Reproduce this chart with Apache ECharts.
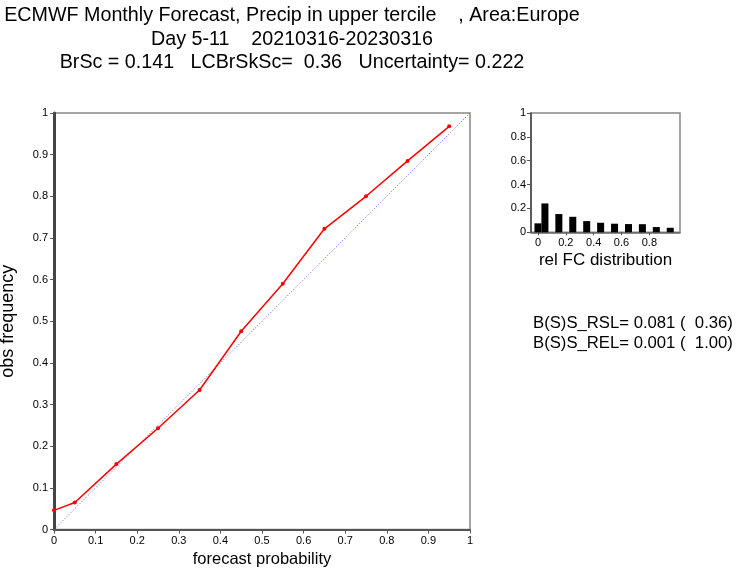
<!DOCTYPE html>
<html>
<head>
<meta charset="utf-8">
<script src="https://cdn.jsdelivr.net/npm/echarts@6/dist/echarts.min.js"></script>
<style>
  html, body { margin: 0; padding: 0; background: #fff; }
  #chart { width: 738px; height: 571px; }
</style>
</head>
<body>
<div id="chart"></div>
<script>
// reliability diagram values
const fcProb = [0, 0.05, 0.15, 0.25, 0.35, 0.45, 0.55, 0.65, 0.75, 0.85, 0.95];
const obsFreq = [0.046, 0.065, 0.157, 0.243, 0.335, 0.476, 0.590, 0.722, 0.800, 0.885, 0.968];
// relative forecast distribution (inset)
const relDist = [0.075, 0.242, 0.153, 0.130, 0.094, 0.080, 0.072, 0.069, 0.068, 0.044, 0.038];
const diagonal = [[0, 0], [1, 1]];
const insetTicks = [0, 0.2, 0.4, 0.6, 0.8];

const titleLines = [
  'ECMWF Monthly Forecast, Precip in upper tercile    , Area:Europe',
  'Day 5-11    20210316-20230316',
  'BrSc = 0.141   LCBrSkSc=  0.36   Uncertainty= 0.222'
];
const scoreLines = ['B(S)S_RSL= 0.081 (  0.36)', 'B(S)S_REL= 0.001 (  1.00)'];

const FONT = 'Liberation Sans, Arial, sans-serif';
const fmt = v => String(+v.toFixed(2));

const chart = echarts.init(document.getElementById('chart'));

const option = {
  animation: false,
  backgroundColor: '#fff',
  textStyle: { fontFamily: FONT },
  title: titleLines.map((t, i) => ({
    text: t,
    left: 287,
    top: 1 + i * 23.5,
    textAlign: 'center',
    textStyle: { fontFamily: FONT, fontSize: 19.7, fontWeight: 'normal', color: '#000' }
  })),
  graphic: scoreLines.map((t, i) => ({
    type: 'text',
    left: 533,
    top: 315 + i * 20,
    style: { text: t, font: '16.7px ' + FONT, fill: '#000' }
  })),
  grid: [
    { left: 54, right: 268, top: 113, bottom: 41.5, outerBoundsMode: 'none',
      show: true, borderColor: '#888', borderWidth: 1.5 },
    { left: 531, right: 58, top: 113, bottom: 338.7, outerBoundsMode: 'none',
      show: true, borderColor: '#888', borderWidth: 1.5 }
  ],
  xAxis: [
    {
      gridIndex: 0, type: 'value', min: 0, max: 1, interval: 0.1,
      name: 'forecast probability', nameLocation: 'middle', nameGap: 21,
      nameTextStyle: { fontSize: 16.5, color: '#000', fontFamily: FONT },
      axisLine: { lineStyle: { color: '#555', width: 2 } },
      axisTick: { show: true, length: 4, lineStyle: { color: '#555' } },
      axisLabel: { fontSize: 11, color: '#000', margin: 6, formatter: fmt },
      splitLine: { show: false }
    },
    {
      gridIndex: 1, type: 'value', min: -0.05, max: 1.02,
      name: 'rel FC distribution', nameLocation: 'middle', nameGap: 20,
      nameTextStyle: { fontSize: 17, color: '#000', fontFamily: FONT },
      axisLine: { onZero: false, lineStyle: { color: '#666', width: 1.5 } },
      axisTick: { show: true, length: 3, customValues: insetTicks, lineStyle: { color: '#555' } },
      axisLabel: { fontSize: 11, color: '#000', margin: 5, customValues: insetTicks, formatter: fmt },
      splitLine: { show: false }
    }
  ],
  yAxis: [
    {
      gridIndex: 0, type: 'value', min: 0, max: 1, interval: 0.1,
      name: 'obs frequency', nameLocation: 'middle', nameGap: 37,
      nameTextStyle: { fontSize: 18, color: '#000', fontFamily: FONT },
      axisLine: { show: true, onZero: false, lineStyle: { color: '#444', width: 3 } },
      axisTick: { show: true, length: 4, lineStyle: { color: '#555' } },
      axisLabel: { fontSize: 11, color: '#000', margin: 6, formatter: fmt },
      splitLine: { show: false }
    },
    {
      gridIndex: 1, type: 'value', min: 0, max: 1, interval: 0.2,
      axisLine: { show: true, onZero: false, lineStyle: { color: '#444', width: 1.5 } },
      axisTick: { show: true, length: 4, lineStyle: { color: '#555' } },
      axisLabel: { fontSize: 11, color: '#000', margin: 5, formatter: fmt },
      splitLine: { show: false }
    }
  ],
  series: [
    {
      name: 'perfect', type: 'line', xAxisIndex: 0, yAxisIndex: 0,
      data: diagonal, symbol: 'none', silent: true,
      lineStyle: { color: '#5555ff', width: 1, type: [1, 2] }
    },
    {
      name: 'reliability', type: 'line', xAxisIndex: 0, yAxisIndex: 0,
      data: fcProb.map((x, i) => [x, obsFreq[i]]),
      symbol: 'circle', symbolSize: 4,
      itemStyle: { color: '#ff0000' },
      lineStyle: { color: '#ff0000', width: 1.5 }
    },
    {
      name: 'rel FC distribution', type: 'bar', xAxisIndex: 1, yAxisIndex: 1,
      data: fcProb.map((x, i) => [x, relDist[i]]),
      barWidth: 7,
      itemStyle: { color: '#000' }
    }
  ]
};

chart.setOption(option);
</script>
</body>
</html>
